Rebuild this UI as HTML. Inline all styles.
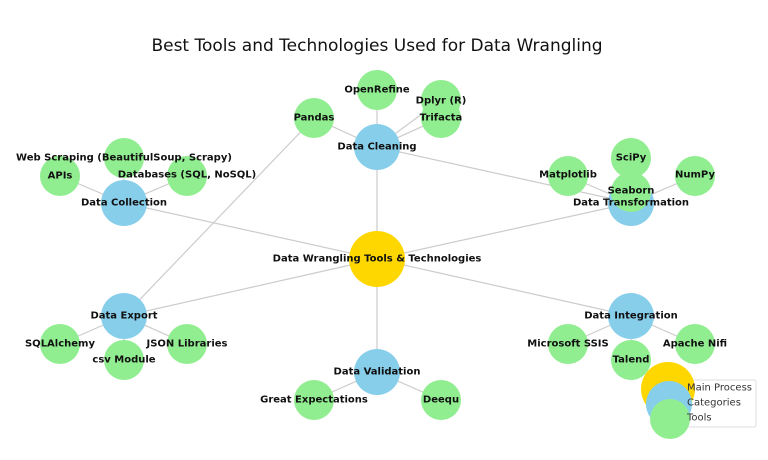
<!DOCTYPE html>
<html><head><meta charset="utf-8"><style>
body{margin:0;background:#fff}
text{font-family:"DejaVu Sans","Liberation Sans",sans-serif}
.l{font-size:10px;font-weight:bold;fill:#111;text-anchor:middle;dominant-baseline:central}
</style></head><body>
<svg width="768" height="455" viewBox="0 0 768 455" xmlns="http://www.w3.org/2000/svg">
<rect width="768" height="455" fill="#fff"/>
<text x="377" y="46" font-size="17" text-anchor="middle" dominant-baseline="central" fill="#111">Best Tools and Technologies Used for Data Wrangling</text>
<g stroke="#cccccc" stroke-width="1.2">
<line x1="377" y1="259" x2="377" y2="147"/>
<line x1="377" y1="259" x2="124" y2="203"/>
<line x1="377" y1="259" x2="631" y2="203"/>
<line x1="377" y1="259" x2="124" y2="316"/>
<line x1="377" y1="259" x2="631" y2="316"/>
<line x1="377" y1="259" x2="377" y2="372"/>
<line x1="377" y1="147" x2="377" y2="90"/>
<line x1="377" y1="147" x2="441" y2="100"/>
<line x1="377" y1="147" x2="441" y2="118"/>
<line x1="377" y1="147" x2="314" y2="118"/>
<line x1="377" y1="147" x2="631" y2="203"/>
<line x1="314" y1="118" x2="124" y2="316"/>
<line x1="124" y1="203" x2="60" y2="176"/>
<line x1="124" y1="203" x2="124" y2="158"/>
<line x1="124" y1="203" x2="187" y2="176"/>
<line x1="631" y1="203" x2="568" y2="176"/>
<line x1="631" y1="203" x2="631" y2="158"/>
<line x1="631" y1="203" x2="695" y2="176"/>
<line x1="124" y1="316" x2="60" y2="344"/>
<line x1="124" y1="316" x2="124" y2="360"/>
<line x1="124" y1="316" x2="187" y2="344"/>
<line x1="631" y1="316" x2="568" y2="344"/>
<line x1="631" y1="316" x2="631" y2="360"/>
<line x1="631" y1="316" x2="695" y2="344"/>
<line x1="377" y1="372" x2="314" y2="400"/>
<line x1="377" y1="372" x2="441" y2="400"/>
</g>
<circle cx="377" cy="259" r="28" fill="#ffd700"/>
<g fill="#87ceeb">
<circle cx="377" cy="147" r="23"/><circle cx="124" cy="203" r="23"/><circle cx="631" cy="203" r="23"/>
<circle cx="124" cy="316" r="23"/><circle cx="631" cy="316" r="23"/><circle cx="377" cy="372" r="23"/>
</g>
<g fill="#90ee90">
<circle cx="377" cy="90" r="20"/><circle cx="441" cy="100" r="20"/><circle cx="441" cy="118" r="20"/><circle cx="314" cy="118" r="20"/>
<circle cx="60" cy="176" r="20"/><circle cx="124" cy="158" r="20"/><circle cx="187" cy="176" r="20"/>
<circle cx="568" cy="176" r="20"/><circle cx="631" cy="158" r="20"/><circle cx="631" cy="192" r="20"/><circle cx="695" cy="176" r="20"/>
<circle cx="60" cy="344" r="20"/><circle cx="124" cy="360" r="20"/><circle cx="187" cy="344" r="20"/>
<circle cx="568" cy="344" r="20"/><circle cx="631" cy="360" r="20"/><circle cx="695" cy="344" r="20"/>
<circle cx="314" cy="400" r="20"/><circle cx="441" cy="400" r="20"/>
</g>
<text class="l" x="377" y="259">Data Wrangling Tools &amp; Technologies</text>
<text class="l" x="377" y="147">Data Cleaning</text>
<text class="l" x="124" y="203">Data Collection</text>
<text class="l" x="631" y="203">Data Transformation</text>
<text class="l" x="124" y="316">Data Export</text>
<text class="l" x="631" y="316">Data Integration</text>
<text class="l" x="377" y="372">Data Validation</text>
<text class="l" x="377" y="90">OpenRefine</text>
<text class="l" x="441" y="101">Dplyr (R)</text>
<text class="l" x="441" y="118">Trifacta</text>
<text class="l" x="314" y="118">Pandas</text>
<text class="l" x="60" y="176">APIs</text>
<text class="l" x="124" y="158">Web Scraping (BeautifulSoup, Scrapy)</text>
<text class="l" x="187" y="175">Databases (SQL, NoSQL)</text>
<text class="l" x="568" y="175">Matplotlib</text>
<text class="l" x="631" y="158">SciPy</text>
<text class="l" x="631" y="191">Seaborn</text>
<text class="l" x="695" y="175">NumPy</text>
<text class="l" x="60" y="344">SQLAlchemy</text>
<text class="l" x="124" y="360">csv Module</text>
<text class="l" x="187" y="344">JSON Libraries</text>
<text class="l" x="568" y="344">Microsoft SSIS</text>
<text class="l" x="631" y="360">Talend</text>
<text class="l" x="695" y="344">Apache Nifi</text>
<text class="l" x="314" y="400">Great Expectations</text>
<text class="l" x="441" y="400">Deequ</text>
<rect x="653" y="380" width="103" height="47" rx="2" fill="#fff" fill-opacity="0.8" stroke="#dddddd"/>
<circle cx="668" cy="389" r="27" fill="#ffd700"/>
<circle cx="669" cy="404" r="23" fill="#87ceeb"/>
<circle cx="670" cy="419" r="20" fill="#90ee90"/>
<g font-size="10" fill="#333" dominant-baseline="central">
<text x="687" y="388">Main Process</text>
<text x="687" y="403">Categories</text>
<text x="687" y="418">Tools</text>
</g>
</svg>
</body></html>
